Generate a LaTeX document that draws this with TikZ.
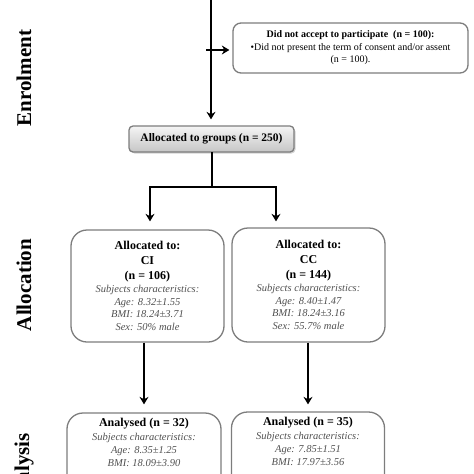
\documentclass[tikz,border=0pt]{standalone}
\usepackage{fontspec}
\setmainfont{Liberation Serif}
\usetikzlibrary{arrows.meta,shadows}
\definecolor{boxline}{RGB}{125,125,125}
\definecolor{subtext}{RGB}{80,80,80}
\newcommand{\headline}[1]{{\fontsize{12}{12.7}\selectfont\bfseries #1}}
\newcommand{\subj}[1]{{\itshape\color{subtext}#1}}

\begin{document}
\begin{tikzpicture}[x=1pt,y=1pt]
  \tikzstyle{every node}+=[inner sep=0pt]
  \tikzstyle{box}=[draw=boxline, line width=1.3pt, rounded corners=16pt]
  \tikzstyle{arr}=[line width=2.2pt, -{Stealth[length=7.5pt,width=9pt]}]
  \tikzstyle{link}=[line width=2.2pt, line cap=rect]
  \tikzstyle{side}=[rotate=90, font=\fontsize{21}{21}\selectfont\bfseries]
  \tikzstyle{txt}=[align=center, font=\fontsize{10.5}{12.7}\selectfont]
  \useasboundingbox (0,0) rectangle (474,-474);
  \clip (0,0) rectangle (474,-474);

  \node[side] (enrol) at (24,-78) {Enrolment};
  \node[side] (allocation) at (24,-285) {Allocation};
  \node[side] (analysis) at (24,-471) {Analysis};

  \coordinate (top) at (211,2);
  \coordinate (split) at (206,-50);
  \node[box, rounded corners=8pt, minimum width=235, minimum height=50] (refused) at (350.5,-48) {};
  \node[txt, font=\fontsize{10}{12.5}\selectfont] (refusedtxt) at (refused) {\textbf{Did not accept to participate\ \ (n = 100):}\\ •Did not present the term of consent and/or assent\\ (n = 100).};
  \node[box, rounded corners=4pt, minimum width=165, minimum height=26, top color=gray!8, bottom color=gray!45, drop shadow={opacity=0.35, shadow xshift=1.5pt, shadow yshift=-1.5pt}] (groups) at (211.5,-139) {\fontsize{11.5}{12}\selectfont\bfseries Allocated to groups (n = 250)};

  \draw[arr, shorten >=6pt] (top) -- (top |- groups.north);
  \draw[arr, shorten >=3pt] (split) -- (split -| refused.west);

  \node[box, minimum width=153, minimum height=112] (ci) at (147.5,-286) {};
  \node[box, minimum width=153, minimum height=114] (cc) at (308.5,-285) {};
  \node[txt] (citxt) at (ci) {\headline{Allocated to:}\\[2.3pt] \headline{CI}\\[2.3pt] \headline{(n = 106)}\\ \subj{Subjects characteristics:}\\ \subj{Age: 8.32±1.55}\\ \subj{BMI: 18.24±3.71}\\ \subj{Sex: 50\% male}};
  \node[txt] (cctxt) at (cc) {\headline{Allocated to:}\\[2.3pt] \headline{CC}\\[2.3pt] \headline{(n = 144)}\\ \subj{Subjects characteristics:}\\ \subj{Age: 8.40±1.47}\\ \subj{BMI: 18.24±3.16}\\ \subj{Sex: 55.7\% male}};

  \coordinate (fork) at (212,-187);
  \coordinate (forkL) at (150,-187);
  \coordinate (forkR) at (276,-187);
  \draw[link] (fork |- groups.south) -- (fork);
  \draw[link] (forkL) -- (forkR);
  \draw[arr, shorten >=8pt] (forkL) -- (forkL |- ci.north);
  \draw[arr, shorten >=6pt] (forkR) -- (forkR |- cc.north);

  \node[box, minimum width=154, minimum height=90] (an1) at (144,-458) {};
  \node[box, minimum width=153, minimum height=90] (an2) at (308,-457) {};
  \node[txt, anchor=north] (an1txt) at ([yshift=-6]an1.north) {\headline{Analysed (n = 32)}\\[1.3pt] \subj{Subjects characteristics:}\\ \subj{Age: 8.35±1.25}\\ \subj{BMI: 18.09±3.90}};
  \node[txt, anchor=north] (an2txt) at ([yshift=-6]an2.north) {\headline{Analysed (n = 35)}\\[1.3pt] \subj{Subjects characteristics:}\\ \subj{Age: 7.85±1.51}\\ \subj{BMI: 17.97±3.56}};

  \draw[arr, shorten >=8pt] (an1 |- ci.south) -- (an1.north);
  \draw[arr, shorten >=7pt] (an2 |- cc.south) -- (an2.north);
\end{tikzpicture}
\end{document}
